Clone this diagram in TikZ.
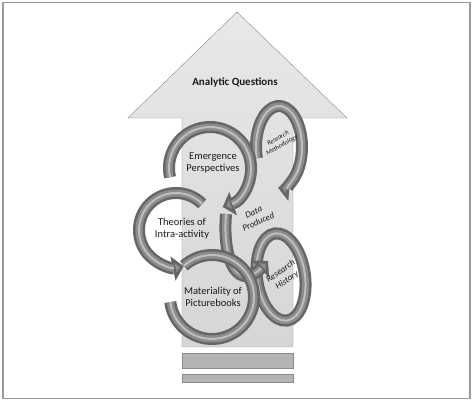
\documentclass[tikz,border=0pt]{standalone}
\usepackage{fontspec}
\setmainfont{Carlito}
\usetikzlibrary{arrows.meta}

\definecolor{framegray}{HTML}{9A9A9A}
\definecolor{arrowedge}{HTML}{8A8A8A}
\definecolor{barfill}{HTML}{B4B4B4}
\definecolor{ringdark}{HTML}{666666}
\definecolor{ringmid}{HTML}{8C8C8C}
\definecolor{ringlight}{HTML}{BEBEBE}
\definecolor{textgray}{HTML}{1A1A1A}

\tikzset{
  ringouter/.style={line width=12pt, draw=ringdark},
  ringinner/.style={line width=7pt, draw=ringmid},
  ringshine/.style={line width=2pt, draw=ringlight},
  ringtip/.style={-{Triangle[length=11pt,width=24pt,fill=ringmid]}},
  mainlabel/.style={font=\fontsize{10.5}{12}\selectfont, align=center, text=textgray},
  sidelabel/.style={font=\fontsize{9}{11}\selectfont\itshape, align=center, text=textgray},
}

% one tube = dark rim, grey body, light stripe
\newcommand{\tube}[3][0pt]{%
  \draw[ringouter,#2] #3;
  \draw[ringinner,shorten >=#1] #3;
  \draw[ringshine,shorten >=#1] #3;}

\begin{document}
\begin{tikzpicture}[x=1pt,y=-1pt]
\useasboundingbox (0,0) rectangle (474,403);

\draw[framegray, line width=1.5pt] (3,2.5) rectangle (470,398.5);

% big arrow and the two bars under it
\draw[arrowedge, top color=gray!18, bottom color=gray!32]
  (237,12) -- (347,118) -- (293,118) -- (293,347) -- (182,347) -- (182,118) -- (128,118) -- cycle;
\draw[arrowedge, fill=barfill] (182,353) rectangle (293,368);
\draw[arrowedge, fill=barfill] (182,374) rectangle (293,382);

\coordinate (cmethod) at (279,147);
\coordinate (chist) at (281,277);
\coordinate (cemerge) at (210,168);
\coordinate (ctheo) at (176,230);
\coordinate (cmat) at (212,297);

% research methodology
\tube[10pt]{ringtip}{(cmethod) ++(164:23 and 41) arc[start angle=164, end angle=452, x radius=23, y radius=41]}

% research history
\tube{}{(chist) ellipse[x radius=24, y radius=44, rotate=8]}

% emergence perspectives
\tube[10pt]{ringtip}{(cemerge) ++(167:41) arc[start angle=167, end angle=432, radius=41]}

% data produced
\tube[10pt]{ringtip}{(226,214) .. controls (222,265) and (240,290) .. (268,261)}

% materiality of picturebooks
\tube{}{(cmat) ++(228:42) arc[start angle=228, end angle=533, radius=42]}

% theories of intra-activity
\tube[10pt]{ringtip}{(ctheo) ++(315:37) arc[start angle=315, end angle=78, radius=37]}

\node[font=\fontsize{11}{13}\selectfont\bfseries, text=textgray] (analytic) at (235,83) {Analytic Questions};
\node[mainlabel] (emerge) at (213,163) {Emergence\\Perspectives};
\node[mainlabel] (theories) at (182,229) {Theories of\\Intra-activity};
\node[mainlabel] (material) at (213,297) {Materiality of\\Picturebooks};
\node[sidelabel, font=\fontsize{6.5}{8}\selectfont\itshape, rotate=30] (method) at (280,142) {Research\\Methodology};
\node[sidelabel, rotate=25] (data) at (256,217) {Data\\Produced};
\node[sidelabel, rotate=35] (history) at (284,276) {Research\\History};

\end{tikzpicture}
\end{document}
